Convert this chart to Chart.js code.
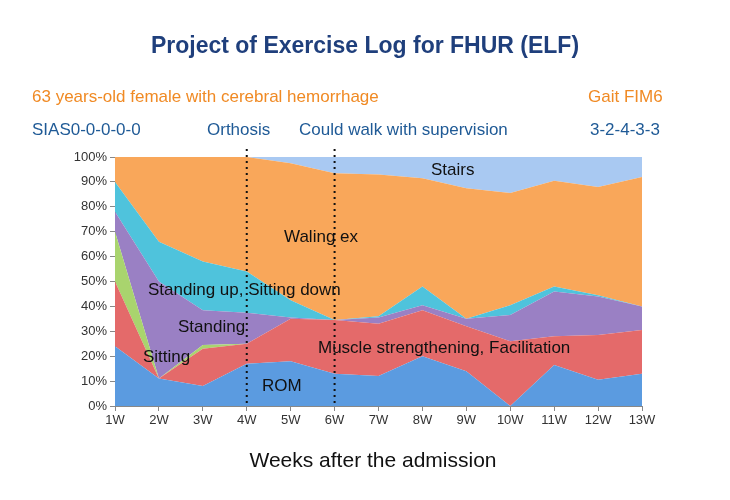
<!DOCTYPE html><html><head><meta charset="utf-8">
<script src="https://cdn.jsdelivr.net/npm/chart.js@4"></script>
<style>html,body{margin:0;padding:0;background:#fff}#w{width:730px;height:500px;position:relative}</style></head><body>
<div id="w"><canvas id="c" width="730" height="500"></canvas></div>
<script>
const weeks=['1W','2W','3W','4W','5W','6W','7W','8W','9W','10W','11W','12W','13W'];
const rom=[24,11,8,17,18,13,12,20,14,0,16.5,10.5,13];
const muscle=[26,0,15,8,17,21.5,21,18.5,18,26,11.5,18,17.5];
const sitting=[20,0,1.5,0,0,0,0,0,0,0,0,0,0];
const standing=[8,39,14,12.5,0.5,0,2.5,2,3,10.5,18,15.5,9.5];
const standUp=[12,16,19.5,16.5,7,0,0.5,7.5,0,4,2,0.5,0];
const walking=[10,34,42,46,55,59,57,43.5,52.5,45,42.5,43.5,52];
const stairs=[0,0,0,0,3,6.5,7,8.5,12.5,14.5,9.5,12,8];
const names=['ROM','Muscle strengthening, Facilitation','Sitting','Standing','Standing up, Sitting down','Waling ex','Stairs'];
const series=[rom,muscle,sitting,standing,standUp,walking,stairs];
const colors=['#5b9be0','#e46a6a','#a9d46e','#9a80c4','#4fc3dc','#f9a75a','#a9c9f2'];
const ds=series.map((d,i)=>({label:names[i],data:d,fill:i===0?'origin':'-1',backgroundColor:colors[i],borderWidth:0,pointRadius:0,tension:0}));
const deco={id:'deco',afterDatasetsDraw(ch){const c=ch.ctx,x=ch.scales.x,y=ch.scales.y;c.save();
c.strokeStyle='#111';c.lineWidth=2;c.setLineDash([2,4]);
[3,5].forEach(i=>{const px=x.getPixelForValue(i);c.beginPath();c.moveTo(px,y.top-8);c.lineTo(px,y.bottom);c.stroke();});
c.setLineDash([]);c.fillStyle='#111';c.font='17px "Liberation Sans", Arial';c.textBaseline='middle';
[['Stairs',431,170],['Waling ex',284,237],['Standing up, Sitting down',148,290],['Standing',178,327],['Sitting',143,357],['Muscle strengthening, Facilitation',318,348],['ROM',262,386]].forEach(t=>c.fillText(t[0],t[1],t[2]));
c.textAlign='center';c.fillStyle='#1f3f7c';c.font='bold 23px "Liberation Sans", Arial';c.fillText('Project of Exercise Log for FHUR (ELF)',365,47);
c.textAlign='left';c.font='17px "Liberation Sans", Arial';c.fillStyle='#f08a24';c.fillText('63 years-old female with cerebral hemorrhage',32,97);c.fillText('Gait FIM6',588,97);
c.fillStyle='#1f5a96';c.fillText('SIAS0-0-0-0-0',32,130);c.fillText('Orthosis',207,130);c.fillText('Could walk with supervision',299,130);c.fillText('3-2-4-3-3',590,130);
c.textAlign='center';c.fillStyle='#111';c.font='21px "Liberation Sans", Arial';c.fillText('Weeks after the admission',373,461);
c.restore();}};
new Chart(document.getElementById('c'),{type:'line',data:{labels:weeks,datasets:ds},plugins:[deco],
options:{responsive:false,animation:false,layout:{padding:{top:157,right:88,left:0,bottom:0}},
plugins:{legend:{display:false},tooltip:{enabled:false}},
scales:{x:{offset:false,afterFit(a){a.height=94;},grid:{drawOnChartArea:false,tickLength:5,color:'#888'},border:{color:'#888'},ticks:{color:'#333',font:{size:13,family:'Liberation Sans'},maxRotation:0,padding:2}},
y:{stacked:true,min:0,max:100,afterFit(a){a.width=115;},grid:{drawOnChartArea:false,tickLength:5,color:'#888'},border:{color:'#888'},ticks:{stepSize:10,color:'#333',font:{size:13,family:'Liberation Sans'},callback:v=>v+'%'}}}}});
</script></body></html>
